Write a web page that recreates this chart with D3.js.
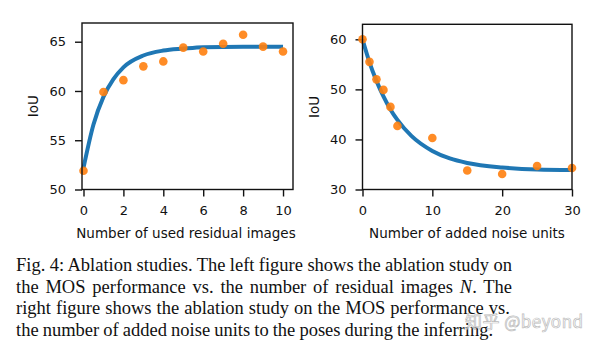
<!DOCTYPE html>
<html>
<head>
<meta charset="utf-8">
<script src="https://cdn.jsdelivr.net/npm/d3@7"></script>
<style>
  body { margin: 0; background: #fff; }
  svg { display: block; }
  .tick text { font-family: "DejaVu Sans", sans-serif; font-size: 13px; fill: #111; }
  .tick line { stroke: #111; stroke-width: 1.4; }
  .label { font-family: "DejaVu Sans", sans-serif; font-size: 13.5px; fill: #111; }
  .caption { font-family: "Liberation Serif", "Times New Roman", serif; font-size: 18.5px; fill: #111; }
</style>
</head>
<body>
<div class="container"></div>
<script>
const WIDTH = 600;
const HEIGHT = 349;

// left: number of used residual images
const residualX = [0, 1, 2, 3, 4, 5, 6, 7, 8, 9, 10];
const residualIoU = [51.9, 59.9, 61.1, 62.5, 63.0, 64.4, 64.0, 64.8, 65.7, 64.5, 64.0];
const residualFitX = [0, 0.5, 1, 1.5, 2, 3, 4, 5, 6, 8, 10];
const residualFitIoU = [52.2, 56.6, 59.4, 61.2, 62.4, 63.6, 64.1, 64.3, 64.45, 64.5, 64.5];
const residualXTicks = [0, 2, 4, 6, 8, 10];
const residualYTicks = [50, 55, 60, 65];

// right: number of added noise units
const noiseX = [0, 1, 2, 3, 4, 5, 10, 15, 20, 25, 30];
const noiseIoU = [60.0, 55.5, 52.0, 49.9, 46.5, 42.7, 40.3, 33.8, 33.1, 34.7, 34.3];
const noiseFitX = [0, 1, 2, 3, 4, 5, 7, 10, 12.5, 15, 20, 25, 30];
const noiseFitIoU = [60.0, 55.4, 51.7, 48.6, 46.0, 43.9, 40.7, 37.7, 36.2, 35.3, 34.4, 34.0, 33.9];
const noiseXTicks = [0, 10, 20, 30];
const noiseYTicks = [30, 40, 50, 60];

const captionLines = [
  ['Fig. 4: Ablation studies. The left figure shows the ablation study on'],
  ['the MOS performance vs. the number of residual images ', {it: 'N'}, '. The'],
  ['right figure shows the ablation study on the MOS performance vs.'],
  ['the number of added noise units to the poses during the inferring.']
];

const svg = d3.select('.container').append('svg')
  .attr('width', WIDTH)
  .attr('height', HEIGHT);

function panel(opt) {
  const x = d3.scaleLinear().domain(opt.xDomain).range([opt.left, opt.right]);
  const y = d3.scaleLinear().domain(opt.yDomain).range([opt.bottom, opt.top]);
  const g = svg.append('g');

  g.append('g')
    .attr('transform', 'translate(0,' + opt.bottom + ')')
    .call(d3.axisBottom(x).tickValues(opt.xTicks).tickSize(7).tickPadding(9).tickFormat(d3.format('d')))
    .call(s => s.select('.domain').remove());
  g.append('g')
    .attr('transform', 'translate(' + opt.left + ',0)')
    .call(d3.axisLeft(y).tickValues(opt.yTicks).tickSize(7).tickPadding(9).tickFormat(d3.format('d')))
    .call(s => s.select('.domain').remove());

  const line = d3.line()
    .curve(d3.curveMonotoneX)
    .x((d, i) => x(opt.fitX[i]))
    .y(d => y(d));
  g.append('path')
    .attr('d', line(opt.fitY))
    .attr('fill', 'none')
    .attr('stroke', '#1f77b4')
    .attr('stroke-width', 4);

  g.selectAll('circle')
    .data(opt.ys)
    .enter().append('circle')
    .attr('cx', (d, i) => x(opt.xs[i]))
    .attr('cy', d => y(d))
    .attr('r', 4.3)
    .attr('fill', '#ff7f0e')
    .attr('fill-opacity', 0.9);

  g.append('rect')
    .attr('x', opt.left)
    .attr('y', opt.top)
    .attr('width', opt.right - opt.left)
    .attr('height', opt.bottom - opt.top)
    .attr('fill', 'none')
    .attr('stroke', '#111')
    .attr('stroke-width', 1.4);

  g.append('text')
    .attr('class', 'label')
    .attr('x', opt.xLabelX)
    .attr('y', 238)
    .attr('text-anchor', 'middle')
    .text(opt.xLabel);
  g.append('text')
    .attr('class', 'label')
    .attr('transform', 'translate(' + opt.yLabelX + ',' + ((opt.top + opt.bottom) / 2) + ') rotate(-90)')
    .attr('text-anchor', 'middle')
    .attr('dy', '0.35em')
    .text('IoU');
}

panel({
  xDomain: [-0.075, 10.5], yDomain: [50, 66.9],
  left: 82, right: 293, top: 23, bottom: 189.5,
  xs: residualX, ys: residualIoU, fitX: residualFitX, fitY: residualFitIoU,
  xTicks: residualXTicks, yTicks: residualYTicks,
  xLabel: 'Number of used residual images', xLabelX: 186, yLabelX: 33
});

panel({
  xDomain: [0, 30], yDomain: [30, 63],
  left: 362.5, right: 572, top: 24.3, bottom: 189.5,
  xs: noiseX, ys: noiseIoU, fitX: noiseFitX, fitY: noiseFitIoU,
  xTicks: noiseXTicks, yTicks: noiseYTicks,
  xLabel: 'Number of added noise units', xLabelX: 467, yLabelX: 314
});

// caption, justified like the paper by spreading the word gaps
const lineWidths = [496, 496, 494, 477];
captionLines.forEach(function (parts, i) {
  const t = svg.append('text')
    .attr('class', 'caption')
    .attr('x', 16)
    .attr('y', 271 + i * 21.7);
  parts.forEach(function (p) {
    if (typeof p === 'string') t.append('tspan').text(p);
    else t.append('tspan').attr('font-style', 'italic').text(p.it);
  });
  const natural = t.node().getComputedTextLength();
  const gaps = t.text().split(' ').length - 1;
  t.attr('word-spacing', ((lineWidths[i] - natural) / gaps).toFixed(2));
});

svg.append('text')
  .attr('x', 465)
  .attr('y', 328)
  .attr('font-family', '"Noto Sans CJK SC", sans-serif')
  .attr('font-size', 17)
  .attr('fill', '#fff')
  .attr('fill-opacity', 0.4)
  .attr('stroke', '#bbb')
  .attr('stroke-width', 0.7)
  .attr('textLength', 118)
  .text('知乎 @beyond');
</script>
</body>
</html>
